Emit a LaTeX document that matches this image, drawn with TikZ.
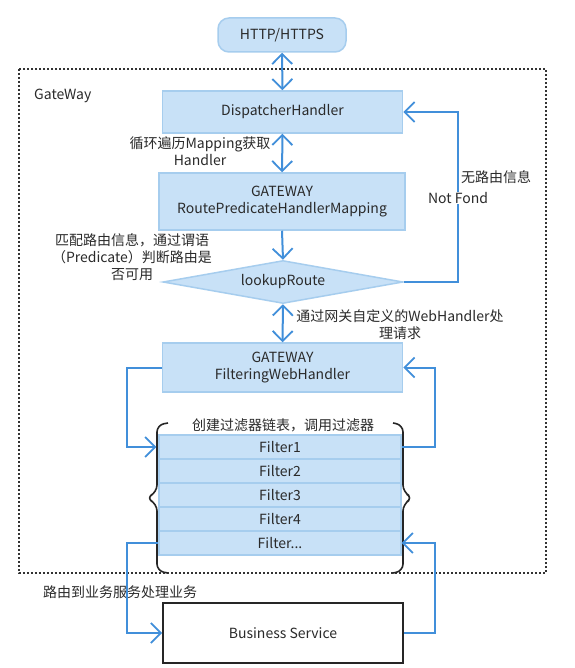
\documentclass[tikz,border=0pt]{standalone}
\usepackage{fontspec}
\setmainfont{Noto Sans CJK SC}
\usetikzlibrary{arrows.meta,shapes.geometric,calc}
\definecolor{boxfill}{HTML}{C8E1F7}
\definecolor{boxline}{HTML}{A6CDEE}
\definecolor{arrblue}{HTML}{418FDA}
\definecolor{txt}{HTML}{2A2A2A}
\begin{document}
\begin{tikzpicture}[x=1pt,y=-1pt,
  font=\fontsize{14pt}{17pt}\selectfont, text=txt,
  bluebox/.style={draw=boxline, fill=boxfill, line width=1.5pt, minimum width=240pt, inner sep=0pt, align=center},
  filterrow/.style={draw=boxline, fill=boxfill, line width=1.2pt, minimum width=242pt, minimum height=24pt, inner sep=0pt},
  conn/.style={draw=arrblue, line width=2pt},
  barb/.tip={Straight Barb[length=10pt,width=20pt,line width=1.8pt]},
  oneway/.style={conn, -barb},
  twoway/.style={conn, barb-barb},
  lbl/.style={align=center, inner sep=1pt}
]
\useasboundingbox (0,0) rectangle (574,668);
\fill[white] (0,0) rectangle (574,668);

% dotted GateWay frame
\draw[line width=1.6pt, color=black!80, dash pattern=on 1.6pt off 2.4pt] (19,69) rectangle (546,573);
\node[anchor=west, inner sep=0pt] (gw) at (34,96) {GateWay};

% main nodes
\node[bluebox, rounded corners=11pt, minimum width=128pt, minimum height=34pt] (http) at (282,35) {HTTP/HTTPS};
\node[bluebox, minimum height=42pt] (disp) at (282.5,112) {DispatcherHandler};
\node[bluebox, minimum width=246pt, minimum height=57pt] (rphm) at (282,201.5) {GATEWAY\\RoutePredicateHandlerMapping};
\node[draw=boxline, fill=boxfill, line width=1.5pt, diamond, shape aspect=5.6, minimum width=240pt, minimum height=43pt, inner sep=0pt] (look) at (283,282) {lookupRoute};
\node[bluebox, minimum height=49pt] (fwh) at (282.5,367.5) {GATEWAY\\FilteringWebHandler};

% filter stack
\node[filterrow] (f1) at (280,447) {Filter1};
\node[filterrow] (f2) at (280,471) {Filter2};
\node[filterrow] (f3) at (280,495) {Filter3};
\node[filterrow] (f4) at (280,519) {Filter4};
\node[filterrow] (f5) at (280,543) {Filter...};

% braces
\draw[line width=1.6pt, color=black!85, rounded corners=7pt]
  (168,423) -- (157,425) -- (157,492) -- (146,498) -- (157,504) -- (157,571) -- (168,573);
\draw[line width=1.6pt, color=black!85, rounded corners=7pt]
  (393,423) -- (403,425) -- (403,492) -- (413,498) -- (403,504) -- (403,571) -- (393,573);
\node[lbl, fill=white] (brl) at (283,425) {创建过滤器链表，调用过滤器};

\node[draw=black!85, line width=1.8pt, minimum width=240pt, minimum height=60pt, inner sep=0pt] (bs) at (283,633) {Business Service};

% helper coordinates for loops
\coordinate (nfx) at (458,0);
\coordinate (lx) at (127,0);
\coordinate (rx) at (435,0);

% labels
\node[lbl] (l1) at (200,151) {循环遍历Mapping获取\\Handler};
\node[lbl] (l2) at (132,257.5) {匹配路由信息，通过谓语\\（Predicate）判断路由是\\否可用};
\node[lbl] (l3) at (400,325) {通过网关自定义的WebHandler处\\理请求};
\node[lbl] (l4) at (496,177) {无路由信息};
\node[lbl] (l6) at (120,592) {路由到业务服务处理业务};

% connectors
\draw[twoway] (http.south) -- (disp.north);
\draw[twoway] (disp.south) -- (rphm.north);
\draw[oneway] (rphm.south) -- (look.north);
\draw[twoway] (look.south) -- (fwh.north);
\draw[oneway] (look.east) -- (look.east -| nfx) |- (disp.east);
\node[lbl, fill=white, inner sep=0pt] (l5) at (458,198) {Not Fond};

\draw[oneway] (fwh.west) -- (fwh.west -| lx) |- ([xshift=-2pt]f1.west);
\draw[oneway] (f1.east) -- (f1.east -| rx) |- (fwh.east);
\draw[oneway] (f5.west) -- (f5.west -| lx) |- (bs.west);
\draw[oneway] (bs.east) -- (bs.east -| rx) |- (f5.east);
\end{tikzpicture}
\end{document}
